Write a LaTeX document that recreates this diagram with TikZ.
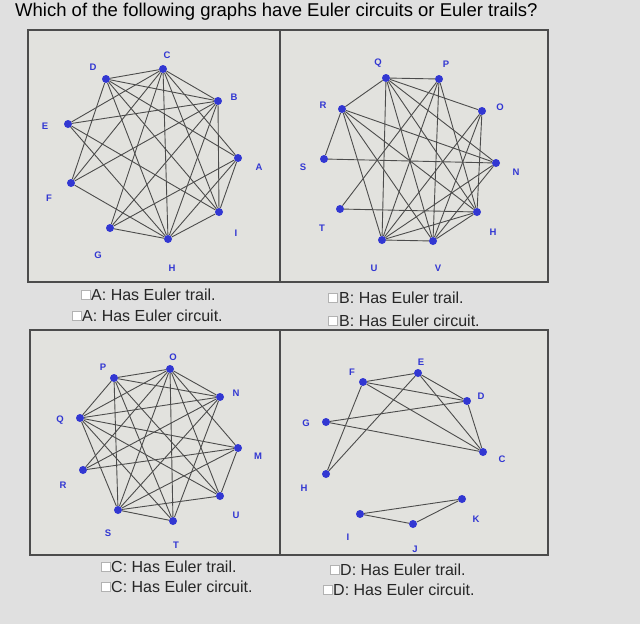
\documentclass[tikz,border=0pt]{standalone}
\usepackage{fontspec}
\setmainfont{Liberation Sans}
\begin{document}
\begin{tikzpicture}[x=1pt,y=-1pt,
 v/.style={circle,fill=vblue,inner sep=0pt,minimum size=8pt},
 lb/.style={text=vblue,font=\fontsize{9.5}{10}\selectfont\bfseries},
 e/.style={draw=black!70,line width=0.9pt},
 opt/.style={font=\fontsize{16}{18}\selectfont,anchor=west,text=black!85},
 cb/.style={draw=black!30,fill=white,minimum size=9pt,inner sep=0pt},
 panel/.style={draw=black!70,line width=1.2pt,fill=panelc}]
\definecolor{vblue}{RGB}{50,55,210}
\definecolor{panelc}{RGB}{226,226,222}
\useasboundingbox (0,0) rectangle (640,624);
\fill[black!12] (0,0) rectangle (640,624);
\node[anchor=west,font=\fontsize{18.5}{20}\selectfont,inner sep=0pt] (title) at (15,12) {Which of the following graphs have Euler circuits or Euler trails?};
\draw[panel] (28,30) rectangle (280,282);
\draw[panel] (280,30) rectangle (548,282);
\draw[panel] (30,330) rectangle (280,555);
\draw[panel] (280,330) rectangle (548,555);
% Graph A
\foreach \n/\x/\y in {C/163/69,D/106/79,B/218/101,E/68/124,A/238/158,F/71/183,I/219/212,G/110/228,H/168/239}
  \node[v] (a\n) at (\x,\y) {};
\foreach \n/\x/\y in {C/167/55,D/93/67,B/234/97,E/45/126,A/259/167,F/49/198,I/236/233,G/98/255,H/172/268}
  \node[lb] (la\n) at (\x,\y) {\n};
\foreach \s/\t in {C/D,C/B,C/E,C/F,C/G,C/H,C/I,C/A,D/B,D/A,D/I,D/H,D/F,B/E,B/F,B/G,B/H,B/I,E/I,E/H,A/G,A/H,A/I,F/H,I/H,G/H}
  \draw[e] (a\s) -- (a\t);
% Graph B
\foreach \n/\x/\y in {Q/386/78,P/439/79,R/342/109,O/482/111,S/324/159,N/496/163,T/340/209,H/477/212,U/382/240,V/433/241}
  \node[v] (b\n) at (\x,\y) {};
\foreach \n/\x/\y in {Q/378/63,P/446/64,R/323/105,O/500/107,S/303/167,N/516/172,T/322/228,H/493/232,U/374/268,V/438/268}
  \node[lb] (lb\n) at (\x,\y) {\n};
\foreach \s/\t in {Q/P,Q/R,Q/O,Q/U,Q/V,Q/H,Q/N,R/S,R/N,R/H,R/U,R/V,S/N,T/H,T/P,P/U,P/V,P/H,O/U,O/V,O/H,N/U,N/V,H/U,H/V,U/V}
  \draw[e] (b\s) -- (b\t);
% Graph C
\foreach \n/\x/\y in {O/170/369,P/114/378,N/220/397,Q/80/418,M/238/448,R/83/470,U/220/496,S/118/510,T/173/521}
  \node[v] (c\n) at (\x,\y) {};
\foreach \n/\x/\y in {O/173/357,P/103/367,N/236/393,Q/60/420,M/258/456,R/63/485,U/236/515,S/108/533,T/176/545}
  \node[lb] (lc\n) at (\x,\y) {\n};
\foreach \s/\t in {O/P,O/N,O/Q,O/M,O/U,O/T,O/S,O/R,P/N,P/Q,P/S,P/U,P/T,Q/N,Q/M,Q/U,Q/T,Q/S,R/M,R/N,S/N,S/M,S/U,S/T,T/N,M/U}
  \draw[e] (c\s) -- (c\t);
% Graph D
\foreach \n/\x/\y in {F/363/382,E/418/373,D/467/401,G/326/422,C/483/452,H/326/474,I/360/514,J/413/524,K/462/499}
  \node[v] (d\n) at (\x,\y) {};
\foreach \n/\x/\y in {F/352/372,E/421/362,D/481/396,G/306/423,C/502/459,H/304/488,I/348/537,J/415/549,K/476/519}
  \node[lb] (ld\n) at (\x,\y) {\n};
\foreach \s/\t in {F/E,F/D,F/C,F/H,E/D,E/C,E/H,G/D,G/C,D/C,I/K,I/J,J/K}
  \draw[e] (d\s) -- (d\t);
% options
\node[cb] (k1) at (86,295) {}; \node[opt,inner sep=1pt] (t1) at (90,295) {A: Has Euler trail.};
\node[cb] (k2) at (77,316) {}; \node[opt,inner sep=1pt] (t2) at (81,316) {A: Has Euler circuit.};
\node[cb] (k3) at (333,298) {}; \node[opt,inner sep=1pt] (t3) at (338,298) {B: Has Euler trail.};
\node[cb] (k4) at (333,321) {}; \node[opt,inner sep=1pt] (t4) at (338,321) {B: Has Euler circuit.};
\node[cb] (k5) at (106,567) {}; \node[opt,inner sep=1pt] (t5) at (110,567) {C: Has Euler trail.};
\node[cb] (k6) at (106,587) {}; \node[opt,inner sep=1pt] (t6) at (110,587) {C: Has Euler circuit.};
\node[cb] (k7) at (335,570) {}; \node[opt,inner sep=1pt] (t7) at (339,570) {D: Has Euler trail.};
\node[cb] (k8) at (328,590) {}; \node[opt,inner sep=1pt] (t8) at (332,590) {D: Has Euler circuit.};
\end{tikzpicture}
\end{document}
